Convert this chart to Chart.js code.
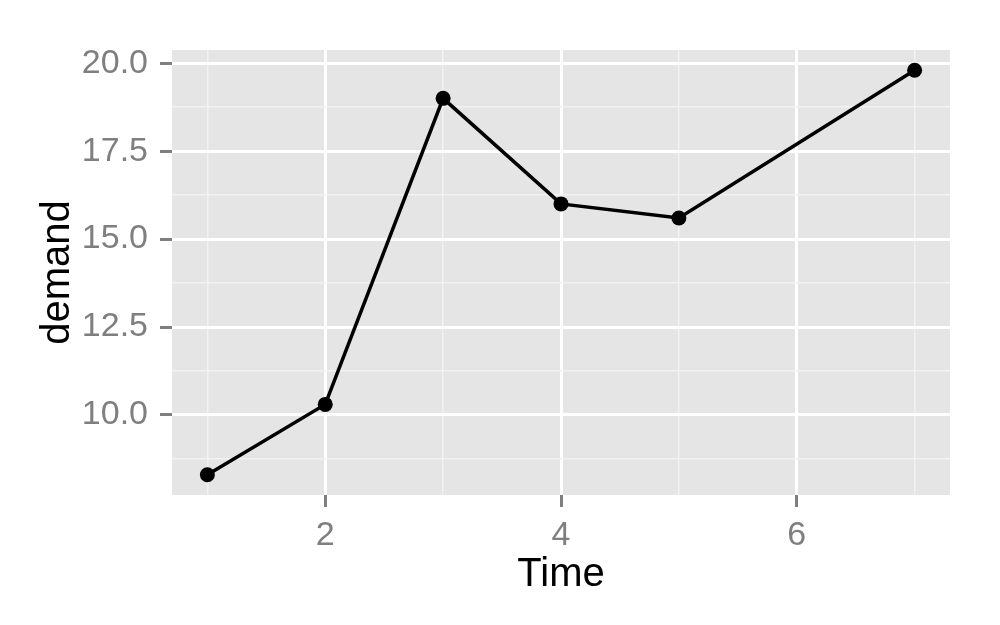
<!DOCTYPE html>
<html>
<head>
<meta charset="utf-8">
<script src="https://cdn.jsdelivr.net/npm/chart.js@4"></script>
<style>
  html, body { margin: 0; padding: 0; background: #fff; }
  #wrap { width: 1000px; height: 625px; }
</style>
</head>
<body>
<div id="wrap"><canvas id="chart"></canvas></div>
<script>
// BOD data
const times = [1, 2, 3, 4, 5, 7];
const demand = [8.3, 10.3, 19.0, 16.0, 15.6, 19.8];

const xMajor = [2, 4, 6];
const xMinor = [1, 3, 5, 7];
const yMajor = [10.0, 12.5, 15.0, 17.5, 20.0];
const yMinor = [8.75, 11.25, 13.75, 16.25, 18.75];

const tickFont = { family: "'Liberation Sans', Arial, sans-serif", size: 34 };
const titleFont = { family: "'Liberation Sans', Arial, sans-serif", size: 40 };

function buildTicks(major, minor) {
  return (scale) => {
    const list = major.map((v) => ({ value: v, major: true }))
      .concat(minor.map((v) => ({ value: v, major: false })));
    list.sort((a, b) => a.value - b.value);
    scale.ticks = list;
  };
}

const gridOpts = {
  color: (c) => (c.tick && c.tick.major ? "#ffffff" : "#f2f2f2"),
  lineWidth: (c) => (c.tick && c.tick.major ? 3 : 1.5),
  tickColor: (c) => (c.tick && c.tick.major ? "#7f7f7f" : "rgba(0,0,0,0)"),
  tickWidth: 3,
  tickLength: 12,
  drawOnChartArea: true,
};

const panelBg = {
  id: "panelBg",
  beforeDraw(chart) {
    const { ctx, chartArea: a } = chart;
    ctx.save();
    ctx.fillStyle = "#e5e5e5";
    ctx.fillRect(a.left, a.top, a.right - a.left, a.bottom - a.top);
    ctx.restore();
  },
};

new Chart(document.getElementById("chart"), {
  type: "line",
  data: {
    datasets: [
      {
        data: times.map((t, i) => ({ x: t, y: demand[i] })),
        borderColor: "#000",
        borderWidth: 3.5,
        pointRadius: 7.5,
        pointBackgroundColor: "#000",
        pointBorderWidth: 0,
        tension: 0,
      },
    ],
  },
  options: {
    responsive: true,
    maintainAspectRatio: false,
    animation: false,
    layout: { padding: { top: 50, right: 50, left: 0, bottom: 0 } },
    plugins: { legend: { display: false }, tooltip: { enabled: false } },
    scales: {
      x: {
        type: "linear",
        min: 0.7,
        max: 7.3,
        afterBuildTicks: buildTicks(xMajor, xMinor),
        afterFit: (s) => { s.height = 130; },
        grid: gridOpts,
        border: { display: false },
        ticks: {
          color: "#7f7f7f",
          font: tickFont,
          padding: 8,
          maxRotation: 0,
          autoSkip: false,
          callback: (v) => (xMajor.includes(v) ? String(v) : ""),
        },
        title: {
          display: true,
          text: "Time",
          color: "#000",
          font: titleFont,
          padding: { top: 0, bottom: 26 },
        },
      },
      y: {
        type: "linear",
        min: 7.725,
        max: 20.375,
        afterBuildTicks: buildTicks(yMajor, yMinor),
        afterFit: (s) => { s.width = 172; },
        grid: gridOpts,
        border: { display: false },
        ticks: {
          color: "#7f7f7f",
          font: tickFont,
          padding: 12,
          autoSkip: false,
          callback: (v) => (yMajor.includes(v) ? v.toFixed(1) : ""),
        },
        title: {
          display: true,
          text: "demand",
          color: "#000",
          font: titleFont,
          padding: { top: 34, bottom: 0 },
        },
      },
    },
  },
  plugins: [panelBg],
});
</script>
</body>
</html>
